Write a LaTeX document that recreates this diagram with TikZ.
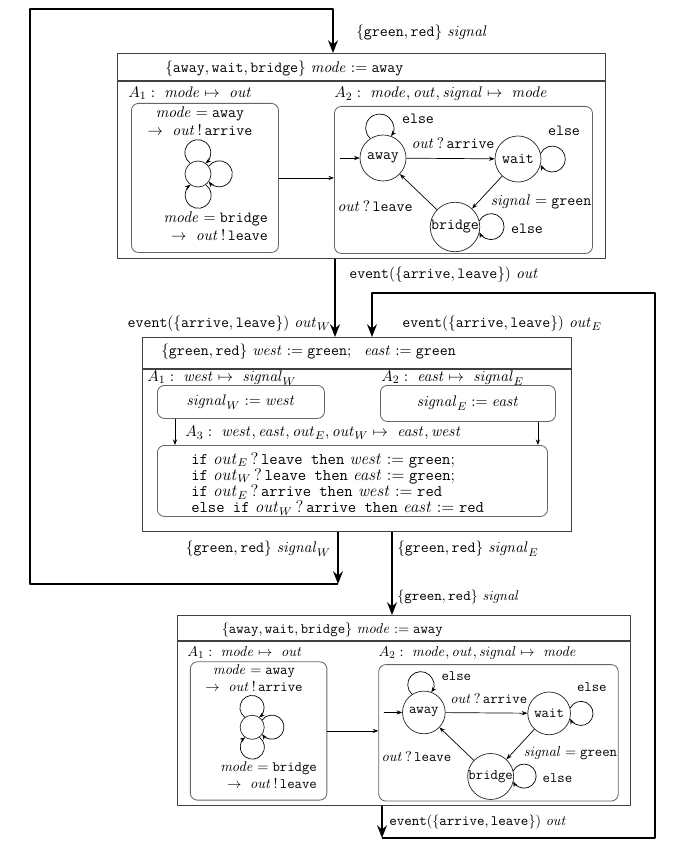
\documentclass[tikz,border=0pt]{standalone}
\usetikzlibrary{arrows.meta}
\newcommand{\tv}[1]{\texttt{#1}}
\newcommand{\vr}[1]{\mathit{#1}}
% loop on a state: node, direction, anchor offset, arc offset, radius
\newcommand{\selfloop}[5]{%
	\pgfmathtruncatemacro\loopA{#2+#3}%
	\pgfmathtruncatemacro\loopB{#2+#4}%
	\pgfmathtruncatemacro\loopC{-2*#4}%
	\draw[trans] (#1.\loopA) arc[start angle=\loopB, delta angle=\loopC, radius=#5];}
\begin{document}
\begin{tikzpicture}[x=0.025cm, y=0.025cm, font=\fontsize{11}{13}\selectfont, line join=round, >={Stealth[length=4pt,width=3pt]},
	frame/.style={draw=black!75, line width=0.8pt, inner sep=0pt},
	inner/.style={draw=black!60, rounded corners=5pt, line width=0.6pt, inner sep=0pt},
	state/.style={circle, draw=black!85, line width=0.5pt, minimum size=1.15cm, inner sep=0pt},
	trans/.style={->, line width=0.5pt},
	flow/.style={-{Stealth[length=9pt,width=7pt]}, line width=1.2pt},
	txt/.style={inner sep=0pt}]
	\tikzset{train/.pic={
			\node[frame, minimum width=12.2cm, minimum height=5.125cm, anchor=north west] (-frame) at (0,0) {};
			\coordinate (-sep) at (0,-28);
			\draw[frame] (-sep) -- (-sep -| -frame.east);
			\node[txt, anchor=west] (-hd) at (48,-16) {$\{\tv{away}, \tv{wait}, \tv{bridge}\}\ \vr{mode} := \tv{away}$};
			% A1 : output of the events
			\node[txt, anchor=west] (-lA) at (11,-40) {$A_1 :\ \vr{mode} \mapsto\ \vr{out}$};
			\node[inner, minimum width=3.675cm, minimum height=3.725cm, anchor=north west] (-ctl) at (14,-50) {};
			\node[txt, align=center] (-gA) at (83,-68) {$\vr{mode} = \tv{away}$\\$\to\ \vr{out}\,!\,\tv{arrive}$};
			\node[txt, align=right, anchor=east] (-gL) at (151,-173) {$\vr{mode} = \tv{bridge}$\\$\to\ \vr{out}\,!\,\tv{leave}$};
			\node[state, minimum size=0.65cm] (-cl) at (81,-121) {};
			\foreach \d in {90,0,-90} \selfloop{-cl}{\d}{36}{144}{13};
			% A2 : the mode machine
			\node[txt, anchor=west] (-lB) at (217,-41) {$A_2 :\ \vr{mode}, \vr{out}, \vr{signal} \mapsto\ \vr{mode}$};
			\node[inner, minimum width=6.45cm, minimum height=3.675cm, anchor=north west] (-aut) at (217,-53) {};
			\draw[trans] (-ctl.east) -- (-ctl.east -| -aut.west);
			\node[state] (-away) at (266,-105) {\tv{away}};
			\node[state] (-wait) at (401,-106) {\tv{wait}};
			\node[state] (-bridge) at (338,-174) {\tv{bridge}};
			\coordinate (-init) at (223,-105);
			\draw[trans] (-init) -- (-away);
			\draw[trans] (-away) -- (-wait);
			\draw[trans] (-wait) -- (-bridge);
			\draw[trans] (-bridge) -- (-away);
			\selfloop{-away}{96}{27}{132}{14}
			\selfloop{-wait}{0}{14}{154}{13}
			\selfloop{-bridge}{0}{14}{154}{13}
			\node[txt] (-e1) at (301,-66) {\tv{else}};
			\node[txt] (-tA) at (336,-90) {$\vr{out}\,?\,$\tv{arrive}};
			\node[txt] (-e2) at (447,-78) {\tv{else}};
			\node[txt] (-tG) at (424,-149) {$\vr{signal} = \tv{green}$};
			\node[txt] (-tL) at (258,-153) {$\vr{out}\,?\,$\tv{leave}};
			\node[txt] (-e3) at (410,-176) {\tv{else}};
	}}
	\useasboundingbox (0,0) rectangle (693,-860);
	\pic (trainW) at (117,-53) {train};
	\pic[scale=0.928, transform shape] (trainE) at (177,-615) {train};
	% controller
	\node[frame, minimum width=10.725cm, minimum height=4.85cm, anchor=north west] (ctrl) at (142,-337) {};
	\coordinate (cSep) at (142,-369);
	\draw[frame] (cSep) -- (cSep -| ctrl.east);
	\node[txt, anchor=west] (cHd) at (161,-352) {$\{\tv{green}, \tv{red}\}\ \vr{west} := \tv{green};\ \ \vr{east} := \tv{green}$};
	\node[txt, anchor=west] (cLA) at (147,-378) {$A_1 :\ \vr{west} \mapsto\ \vr{signal}_W$};
	\node[inner, minimum width=4.175cm, minimum height=0.825cm, anchor=north west] (cA) at (157,-385) {$\vr{signal}_W := \vr{west}$};
	\node[txt, anchor=west] (cLB) at (381,-378) {$A_2 :\ \vr{east} \mapsto\ \vr{signal}_E$};
	\node[inner, minimum width=4.375cm, minimum height=0.9cm, anchor=north west] (cB) at (380,-385) {$\vr{signal}_E := \vr{east}$};
	\node[txt, anchor=west] (cLC) at (185,-433) {$A_3 :\ \vr{west}, \vr{east}, \vr{out}_E, \vr{out}_W \mapsto\ \vr{east}, \vr{west}$};
	\node[inner, minimum width=9.75cm, minimum height=1.775cm, anchor=north west] (cC) at (157,-445) {};
	\node[txt, align=left, anchor=north west, font=\fontsize{11.5}{11.6}\selectfont] (cCode) at (191,-452) {%
		\tv{if} $\vr{out}_E\,?\,$\tv{leave then} $\vr{west} := \tv{green}$;\\
		\tv{if} $\vr{out}_W\,?\,$\tv{leave then} $\vr{east} := \tv{green}$;\\
		\tv{if} $\vr{out}_E\,?\,$\tv{arrive then} $\vr{west} := \tv{red}$\\
		\tv{else if} $\vr{out}_W\,?\,$\tv{arrive then} $\vr{east} := \tv{red}$};
	\coordinate (cAo) at ([xshift=0.45cm]cA.south west);
	\coordinate (cBo) at ([xshift=-0.45cm]cB.south east);
	\draw[trans] (cAo) -- (cAo |- cC.north);
	\draw[trans] (cBo) -- (cBo |- cC.north);
	% wires between the components
	\coordinate (lc) at (30,-9);
	\coordinate (sW) at (338,-584);
	\coordinate (tIn) at (333,0);
	\coordinate (oW) at (335,0);
	\coordinate (eIn) at (372,0);
	\coordinate (sE) at (392,0);
	\coordinate (oE) at (382,-838);
	\coordinate (rc) at (655,-293);
	\draw[flow] (ctrl.south -| sW) -- (sW);
	\draw[flow] (sW) -| (lc) -| (trainW-frame.north -| tIn);
	\draw[flow] (trainW-frame.south -| oW) -- (ctrl.north -| oW);
	\draw[flow] (ctrl.south -| sE) -- (trainE-frame.north -| sE);
	\draw[flow] (trainE-frame.south -| oE) -- (oE);
	\draw[flow] (oE) -| (rc) -| (ctrl.north -| eIn);
	\node[txt, anchor=west] (lbSig) at (356,-33) {$\{\tv{green}, \tv{red}\}\ \vr{signal}$};
	\node[txt, anchor=west] (lbOut) at (349,-275) {$\tv{event}(\{\tv{arrive}, \tv{leave}\})\ \vr{out}$};
	\node[txt, anchor=east] (lbOutW) at (331,-324) {$\tv{event}(\{\tv{arrive}, \tv{leave}\})\ \vr{out}_W$};
	\node[txt, anchor=west] (lbOutE) at (402,-324) {$\tv{event}(\{\tv{arrive}, \tv{leave}\})\ \vr{out}_E$};
	\node[txt, anchor=east] (lbSigW) at (331,-549) {$\{\tv{green}, \tv{red}\}\ \vr{signal}_W$};
	\node[txt, anchor=west] (lbSigE) at (397,-549) {$\{\tv{green}, \tv{red}\}\ \vr{signal}_E$};
	\node[txt, anchor=west, font=\fontsize{10.2}{12}\selectfont] (lbSig2) at (397,-597) {$\{\tv{green}, \tv{red}\}\ \vr{signal}$};
	\node[txt, anchor=west, font=\fontsize{10.2}{12}\selectfont] (lbOut2) at (389,-822) {$\tv{event}(\{\tv{arrive}, \tv{leave}\})\ \vr{out}$};
\end{tikzpicture}
\end{document}
